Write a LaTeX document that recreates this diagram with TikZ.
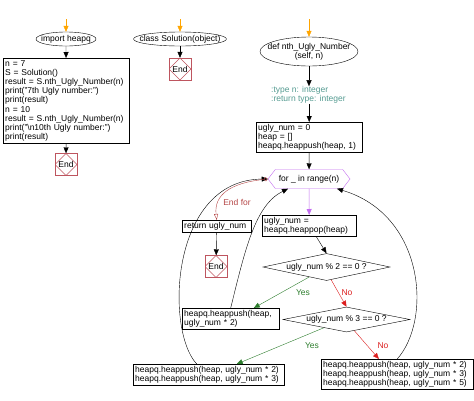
\documentclass[tikz,border=0pt]{standalone}
\usepackage{fontspec}
\setmainfont{Liberation Sans}
\usetikzlibrary{shapes.geometric,shapes.symbols,arrows.meta,calc}
\definecolor{startorange}{RGB}{255,165,0}
\definecolor{endred}{RGB}{190,85,95}
\definecolor{loopviolet}{RGB}{195,110,240}
\definecolor{notegreen}{RGB}{85,155,145}
\definecolor{yesgreen}{RGB}{45,125,45}
\definecolor{nored}{RGB}{220,30,30}
\definecolor{endforred}{RGB}{180,70,70}

\tikzset{
  arr/.style={-{Triangle[length=6pt,width=5pt]}},
  start/.style={ellipse, draw, fill=white, inner xsep=-30pt, inner ysep=0pt, minimum height=14pt, align=center},
  box/.style={draw, rectangle, fill=white, align=left, inner xsep=2pt, inner ysep=2pt, anchor=north west},
  endbox/.style={draw=endred, rectangle, minimum size=22pt, inner sep=0pt,
    path picture={\draw[endred] (path picture bounding box.north) -- (path picture bounding box.east)
      -- (path picture bounding box.south) -- (path picture bounding box.west) -- cycle;}},
  choice/.style={diamond, draw, fill=white, aspect=5, inner sep=0pt, minimum width=127pt},
  lbl/.style={inner sep=0pt}
}

\begin{document}
\begin{tikzpicture}[x=1pt,y=-1pt,font=\fontsize{8.5}{9.2}\selectfont]
\useasboundingbox (0,0) rectangle (474,400);

% module level
\coordinate (s1) at (66,19);
\node[start, minimum width=60pt] (imp) at (66,39) {import heapq};
\node[box, text width=122pt] (mainbox) at (3,58) {n = 7\\S = Solution()\\result = S.nth\_Ugly\_Number(n)\\print("7th Ugly number:")\\print(result)\\n = 10\\result = S.nth\_Ugly\_Number(n)\\print("\textbackslash n10th Ugly number:")\\print(result)};
\node[endbox] (end1) at (66,164.5) {End};
\draw[arr, startorange] (s1) -- (imp);
\draw[arr] (imp) -- (mainbox);
\draw[arr] (mainbox) -- (end1);

% class
\coordinate (s2) at (180,19);
\node[start, minimum width=93pt] (cls) at (180,39) {class Solution(object)};
\node[endbox] (end2) at (180,69) {End};
\draw[arr, startorange] (s2) -- (cls);
\draw[arr] (cls) -- (end2);

% method
\coordinate (s3) at (309,19);
\node[start, minimum width=98pt, minimum height=29pt] (def) at (309,51.5) {def nth\_Ugly\_Number\\(self, n)};
\node[anchor=west, align=left, text=notegreen, inner sep=0pt] (note) at (271,95) {:type n: integer\\:return type: integer};
\node[box, text width=102pt] (initbox) at (256,122) {ugly\_num = 0\\heap = []\\heapq.heappush(heap, 1)};
\node[signal, signal to=east and west, signal pointer angle=105, draw=loopviolet, fill=white,
  minimum width=82pt, minimum height=19pt, inner sep=0pt] (loop) at (309,179) {for \_ in range(n)};
\node[box, text width=90pt] (popbox) at (262,215) {ugly\_num =\\heapq.heappop(heap)};
\node[choice, minimum height=27pt] (chk2) at (326.5,267) {ugly\_num \% 2 == 0 ?};
\node[box, text width=65pt] (ret) at (182,220) {return ugly\_num};
\node[endbox] (end3) at (216,266.5) {End};
\node[box, text width=93pt] (push2) at (182,308) {heapq.heappush(heap,\\ugly\_num * 2)};
\node[choice, minimum height=25pt] (chk3) at (346.5,319.5) {ugly\_num \% 3 == 0 ?};
\node[box, text width=147pt] (push23) at (133,364) {heapq.heappush(heap, ugly\_num * 2)\\heapq.heappush(heap, ugly\_num * 3)};
\node[box, text width=148pt] (push235) at (321,359) {heapq.heappush(heap, ugly\_num * 2)\\heapq.heappush(heap, ugly\_num * 3)\\heapq.heappush(heap, ugly\_num * 5)};

\draw[arr, startorange] (s3) -- (def);
\draw[arr] (def) -- (def |- note.north);
\draw[arr] (initbox.north |- note.south) -- (initbox);
\draw[arr] (initbox) -- (loop);
\draw[arr, loopviolet] (loop) -- (popbox);
\draw[arr] ($(popbox.south)+(7,0)$) -- (chk2.north);
\draw[arr] (ret) -- (end3);

% branches
\draw[arr, yesgreen] (chk2.-150) -- (push2.25);
\draw[arr, nored] (chk2.-70) -- (chk3.north);
\draw[arr, yesgreen] (chk3.-160) -- (push23.21);
\draw[arr, nored] (chk3.-55) -- (push235.140);
\node[lbl, text=yesgreen] at (303,293) {Yes};
\node[lbl, text=nored] at (347,293) {No};
\node[lbl, text=yesgreen] at (312,346) {Yes};
\node[lbl, text=nored] at (383,346) {No};

% back to the loop
\draw[arr] ($(push23.north)+(-12,0)$) .. controls (165,330) and (170,180) .. (loop.west);
\draw[arr] (push2.north) .. controls (245,250) and (255,205) .. ($(loop.south)+(-21,0)$);
\draw[arr] (push235.north) .. controls (432,320) and (425,215) .. ($(loop.south)+(28,0)$);
\draw[endforred, {Circle[open,length=4pt]}-{Triangle[open,length=6pt,width=4pt]}]
  (loop.west) .. controls (230,183) and (214,195) .. (ret.north);
\node[lbl, text=endforred] at (237,202) {End for};
\end{tikzpicture}
\end{document}
